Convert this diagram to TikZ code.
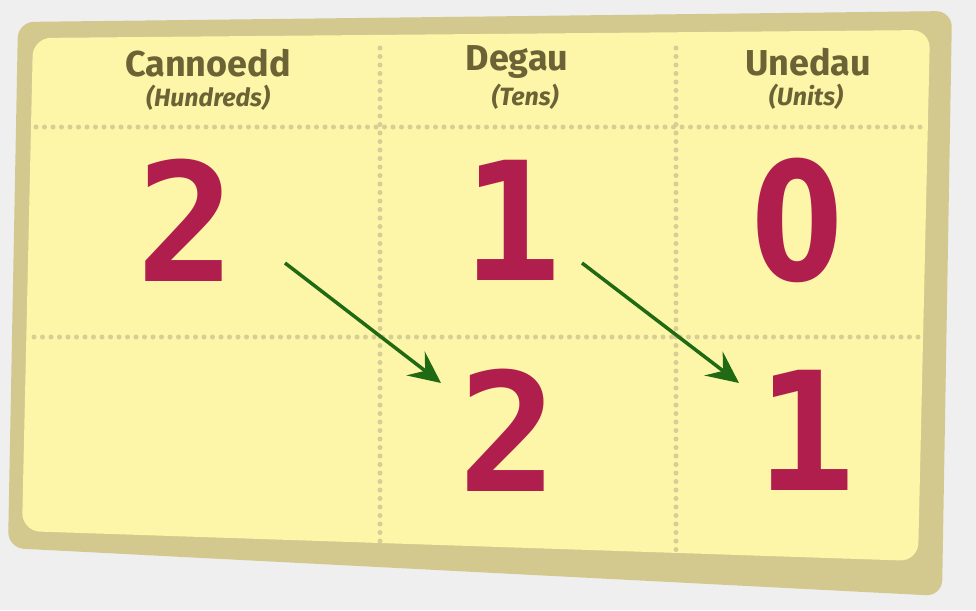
\documentclass[tikz,border=0pt]{standalone}
\usepackage{fontspec}
\setmainfont{Fira Sans}
\newfontfamily\digitfont{DejaVu Sans Mono}
\newfontfamily\zerofont{DejaVu Sans}
\usetikzlibrary{arrows.meta}
\definecolor{frame}{HTML}{D3C98E}
\definecolor{paper}{HTML}{FDF6A8}
\definecolor{olive}{HTML}{6B6336}
\definecolor{digit}{HTML}{B01E4E}
\definecolor{arrowgreen}{HTML}{1F6A12}
\definecolor{dotc}{HTML}{D6CE96}
\definecolor{bg}{HTML}{EFEFEF}
\tikzset{
 head/.style={text=olive,font=\fontsize{36}{36}\selectfont\bfseries},
 sub/.style={text=olive,font=\fontsize{25}{25}\selectfont\bfseries\itshape},
 dig/.style={text=digit,font=\fontsize{165}{165}\selectfont\digitfont\bfseries},
 grid/.style={dotc,line width=5pt,dash pattern=on 0pt off 8.5pt,line cap=round},
 carry/.style={arrowgreen,line width=3.5pt,-{Stealth[length=32pt,width=30pt,inset=12pt]}}
}
\begin{document}
\begin{tikzpicture}[x=1pt,y=-1pt]
\useasboundingbox (0,0) rectangle (976,610);
\fill[bg] (0,0) rectangle (976,610);
\fill[frame,rounded corners=16pt] (18,22) -- (952,11) -- (942,596) -- (8,548) -- cycle;
\fill[paper,rounded corners=18pt] (33,38) -- (930,30) -- (918,561) -- (22,531) -- cycle;
\draw[grid] (380,48) -- (380,545);
\draw[grid] (676,48) -- (676,553);
\draw[grid] (36,127) -- (924,127);
\draw[grid] (34,337) -- (921,337);
\node[head] (h1) at (208,63) {Cannoedd};
\node[sub] (s1) at (208,98) {(Hundreds)};
\node[head] (h2) at (517,62) {Degau};
\node[sub] (s2) at (525,97) {(Tens)};
\node[head] (h3) at (808,62) {Unedau};
\node[sub] (s3) at (806,97) {(Units)};
\node[dig] (a) at (186,220) {2};
\node[dig] (b) at (512,220) {1};
\node[dig,xscale=0.8,font=\fontsize{165}{165}\selectfont\zerofont\bfseries] (c) at (797,220) {0};
\node[dig] (d) at (508,430) {2};
\node[dig] (e) at (806,430) {1};
\coordinate (a1) at (285,263); \coordinate (a2) at (441,383);
\coordinate (b1) at (582,263); \coordinate (b2) at (739,383);
\draw[carry] (a1) -- (a2);
\draw[carry] (b1) -- (b2);
\end{tikzpicture}
\end{document}
